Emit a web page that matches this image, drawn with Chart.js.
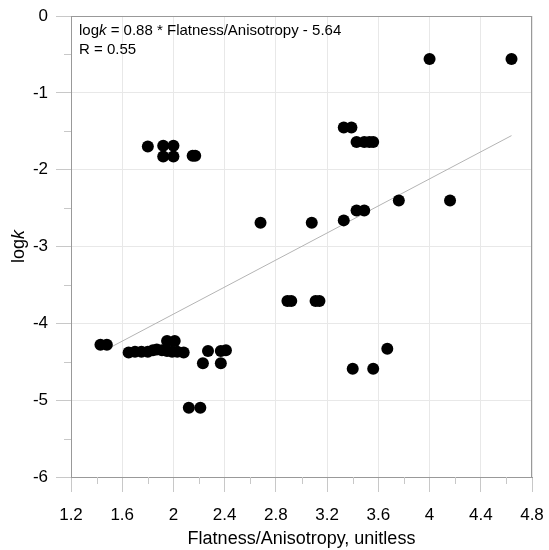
<!DOCTYPE html>
<html>
<head>
<meta charset="utf-8">
<script src="https://cdn.jsdelivr.net/npm/chart.js@4"></script>
<style>
  html, body { margin: 0; padding: 0; background: #fff; }
  #wrap { width: 549px; height: 550px; }
</style>
</head>
<body>
<div id="wrap"><canvas id="chart" width="549" height="550"></canvas></div>
<script>
// values
const flatness = [
    4.00, 4.64,
    3.33, 3.39, 3.43, 3.49, 3.53, 3.56,
    2.68, 3.08, 3.33, 3.43, 3.49, 3.76, 4.16,
    2.89, 2.92, 3.11, 3.14,
    3.40, 3.56, 3.67,
    1.80, 1.92, 2.00, 1.92, 2.00, 2.15, 2.17,
    1.43, 1.48,
    1.65, 1.70, 1.75, 1.80, 1.84, 1.87, 1.91, 1.95, 1.99, 2.03, 2.08,
    1.95, 2.01,
    2.27, 2.37, 2.41, 2.23, 2.37,
    2.12, 2.21
];
const logk = [
    -0.56, -0.56,
    -1.45, -1.45, -1.64, -1.64, -1.64, -1.64,
    -2.69, -2.69, -2.66, -2.53, -2.53, -2.40, -2.40,
    -3.71, -3.71, -3.71, -3.71,
    -4.59, -4.59, -4.33,
    -1.70, -1.69, -1.69, -1.83, -1.83, -1.82, -1.82,
    -4.28, -4.28,
    -4.38, -4.37, -4.37, -4.37, -4.35, -4.34, -4.35, -4.36, -4.37, -4.37, -4.38,
    -4.23, -4.23,
    -4.36, -4.36, -4.35, -4.52, -4.52,
    -5.10, -5.10
];

const slope = 0.88;
const intercept = -5.64;
const fitRange = [1.48, 4.64];
const rValue = 0.55;

const xTicks = [1.2, 1.6, 2, 2.4, 2.8, 3.2, 3.6, 4, 4.4, 4.8];
const yTicks = [0, -1, -2, -3, -4, -5, -6];

const FONT = '"Liberation Sans", Arial, sans-serif';

const points = flatness.map((x, i) => ({ x: x, y: logk[i] }));
const fitLine = fitRange.map(x => ({ x: x, y: slope * x + intercept }));

// minor ticks, frame, equation text and y title
const extras = {
    id: 'extras',
    afterDraw(chart) {
        const c = chart.ctx;
        const a = chart.chartArea;
        const xs = chart.scales.x, ys = chart.scales.y;
        c.save();
        c.strokeStyle = '#c8c8c8';
        c.lineWidth = 1;
        c.beginPath();
        for (let i = 0; i < xTicks.length - 1; i++) {
            const px = Math.round(xs.getPixelForValue((xTicks[i] + xTicks[i + 1]) / 2)) + 0.5;
            c.moveTo(px, a.bottom);
            c.lineTo(px, a.bottom + 7);
        }
        for (let i = 0; i < yTicks.length - 1; i++) {
            const py = Math.round(ys.getPixelForValue((yTicks[i] + yTicks[i + 1]) / 2)) + 0.5;
            c.moveTo(a.left, py);
            c.lineTo(a.left - 7, py);
        }
        c.stroke();

        c.strokeStyle = '#999';
        c.beginPath();
        c.moveTo(a.left, Math.round(a.top) + 0.5);
        c.lineTo(a.right, Math.round(a.top) + 0.5);
        c.moveTo(Math.round(a.right) - 0.5, a.top);
        c.lineTo(Math.round(a.right) - 0.5, a.bottom);
        c.stroke();

        // equation
        c.fillStyle = '#000';
        c.textBaseline = 'alphabetic';
        c.textAlign = 'left';
        let tx = a.left + 8;
        const ty = a.top + 19;
        c.font = '15px ' + FONT;
        c.fillText('log', tx, ty);
        tx += c.measureText('log').width;
        c.font = 'italic 15px ' + FONT;
        c.fillText('k', tx, ty);
        tx += c.measureText('k').width;
        c.font = '15px ' + FONT;
        c.fillText(' = ' + slope.toFixed(2) + ' * Flatness/Anisotropy - ' + Math.abs(intercept).toFixed(2), tx, ty);
        c.fillText('R = ' + rValue.toFixed(2), a.left + 8, ty + 19);

        // y title
        c.translate(24, (a.top + a.bottom) / 2);
        c.rotate(-Math.PI / 2);
        c.font = '18px ' + FONT;
        const w1 = c.measureText('log').width;
        c.font = 'italic 18px ' + FONT;
        const w2 = c.measureText('k').width;
        const start = -(w1 + w2) / 2;
        c.font = '18px ' + FONT;
        c.fillText('log', start, 0);
        c.font = 'italic 18px ' + FONT;
        c.fillText('k', start + w1, 0);
        c.restore();
    }
};

const ctx = document.getElementById('chart').getContext('2d');
const chart = new Chart(ctx, {
    type: 'scatter',
    data: {
        datasets: [{
            label: 'fit',
            type: 'line',
            data: fitLine,
            borderColor: '#b4b4b4',
            borderWidth: 1,
            pointRadius: 0,
            fill: false,
            order: 2
        }, {
            label: 'samples',
            data: points,
            backgroundColor: '#000',
            borderWidth: 0,
            pointRadius: 6,
            pointHoverRadius: 6,
            order: 1
        }]
    },
    options: {
        responsive: false,
        animation: false,
        events: [],
        layout: { padding: { top: 16, right: 17, left: 0, bottom: 0 } },
        plugins: {
            legend: { display: false },
            tooltip: { enabled: false }
        },
        scales: {
            x: {
                type: 'linear',
                min: 1.2,
                max: 4.8,
                afterBuildTicks: (s) => { s.ticks = xTicks.map(v => ({ value: v })); },
                afterFit: (s) => { s.height = 73; s.paddingLeft = 0; s.paddingRight = 0; },
                ticks: {
                    callback: (v) => String(parseFloat(v.toFixed(1))),
                    color: '#000',
                    padding: 13,
                    maxRotation: 0,
                    autoSkip: false,
                    font: { family: FONT, size: 17 }
                },
                grid: { color: '#e8e8e8', tickColor: '#c8c8c8', tickLength: 15 },
                border: { color: '#999' },
                title: {
                    display: true,
                    text: 'Flatness/Anisotropy, unitless',
                    color: '#000',
                    font: { family: FONT, size: 18 },
                    padding: { top: 0, bottom: 0 }
                }
            },
            y: {
                type: 'linear',
                min: -6,
                max: 0,
                afterBuildTicks: (s) => { s.ticks = yTicks.map(v => ({ value: v })); },
                afterFit: (s) => { s.width = 71; s.paddingTop = 0; s.paddingBottom = 0; },
                ticks: {
                    color: '#000',
                    padding: 8,
                    autoSkip: false,
                    font: { family: FONT, size: 17 }
                },
                grid: { color: '#e8e8e8', tickColor: '#c8c8c8', tickLength: 15 },
                border: { color: '#999' }
            }
        }
    },
    plugins: [extras]
});
</script>
</body>
</html>
